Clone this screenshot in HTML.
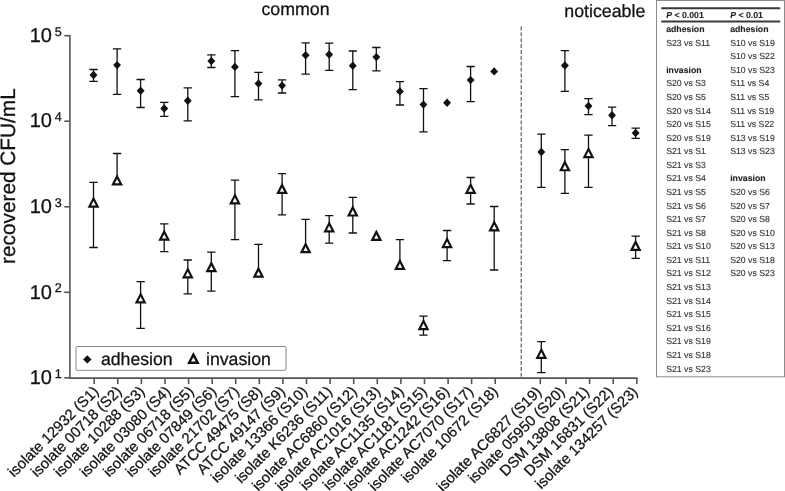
<!DOCTYPE html><html><head><meta charset="utf-8"><title>figure</title><style>html,body{margin:0;padding:0;background:#fff}svg{display:block}.fig text{font-family:"Liberation Sans",sans-serif;text-rendering:geometricPrecision;stroke:#111;stroke-width:.26px;paint-order:stroke}.fig .tb text{stroke-width:.12px;stroke:#333}</style></head><body><svg width="785" height="491" viewBox="0 0 785 491" class="fig"><rect width="785" height="491" fill="#fff"/><g stroke="#555" stroke-width="1.6" fill="none"><path d="M69.9 35.1V378.90000000000003M69.9 378.1H637.57"/><path d="M64.30000000000001 35.7H69.9"/><path d="M64.30000000000001 121.2H69.9"/><path d="M64.30000000000001 206.8H69.9"/><path d="M64.30000000000001 292.3H69.9"/><path d="M64.30000000000001 377.8H69.9"/><path d="M94.2 378.1V384.1"/><path d="M117.8 378.1V384.1"/><path d="M141.4 378.1V384.1"/><path d="M165.0 378.1V384.1"/><path d="M188.6 378.1V384.1"/><path d="M212.2 378.1V384.1"/><path d="M235.7 378.1V384.1"/><path d="M259.3 378.1V384.1"/><path d="M282.9 378.1V384.1"/><path d="M306.5 378.1V384.1"/><path d="M330.1 378.1V384.1"/><path d="M353.7 378.1V384.1"/><path d="M377.3 378.1V384.1"/><path d="M400.9 378.1V384.1"/><path d="M424.5 378.1V384.1"/><path d="M448.1 378.1V384.1"/><path d="M471.6 378.1V384.1"/><path d="M495.2 378.1V384.1"/><path d="M540.3 378.1V384.1"/><path d="M566.0 378.1V384.1"/><path d="M589.6 378.1V384.1"/><path d="M613.2 378.1V384.1"/><path d="M636.8 378.1V384.1"/></g><path d="M521.2 26.5V377.8" stroke="#4a4a4a" stroke-width="1.05" stroke-dasharray="4 1.87" fill="none"/><text x="52.0" y="41.9" font-size="20" text-anchor="end" fill="#111">10</text><text x="54.8" y="35.7" font-size="12.6" fill="#111">5</text><text x="52.0" y="127.4" font-size="20" text-anchor="end" fill="#111">10</text><text x="54.8" y="121.2" font-size="12.6" fill="#111">4</text><text x="52.0" y="212.9" font-size="20" text-anchor="end" fill="#111">10</text><text x="54.8" y="206.8" font-size="12.6" fill="#111">3</text><text x="52.0" y="298.5" font-size="20" text-anchor="end" fill="#111">10</text><text x="54.8" y="292.3" font-size="12.6" fill="#111">2</text><text x="52.0" y="384.0" font-size="20" text-anchor="end" fill="#111">10</text><text x="54.8" y="377.8" font-size="12.6" fill="#111">1</text><text transform="translate(15.0 176.1) rotate(-90)" font-size="20.8" text-anchor="middle" fill="#111">recovered CFU/mL</text><text x="295.5" y="15.4" font-size="17.8" text-anchor="middle" fill="#111">common</text><text x="604.8" y="16.6" font-size="17.8" text-anchor="middle" fill="#111">noticeable</text><g stroke="#111" stroke-width="1.3" fill="none"><path d="M93.5 69.5V81.4M89.3 69.5H97.7M89.3 81.4H97.7"/><path d="M93.5 182.4V198.5M89.3 182.4H97.7M93.5 206.9V247.5M89.3 247.5H97.7"/><path d="M117.1 48.8V94.4M112.9 48.8H121.2M112.9 94.4H121.2"/><path d="M117.1 153.5V176.3M112.9 153.5H121.2"/><path d="M140.6 79.5V107.5M136.5 79.5H144.8M136.5 107.5H144.8"/><path d="M140.6 281.6V294.3M136.5 281.6H144.8M140.6 302.7V328.3M136.5 328.3H144.8"/><path d="M164.2 102.4V116.4M160.1 102.4H168.4M160.1 116.4H168.4"/><path d="M164.2 223.9V231.6M160.1 223.9H168.4M164.2 240.0V251.6M160.1 251.6H168.4"/><path d="M187.8 87.9V120.9M183.6 87.9H191.9M183.6 120.9H191.9"/><path d="M187.8 260.0V269.3M183.6 260.0H191.9M187.8 277.7V293.8M183.6 293.8H191.9"/><path d="M211.3 54.9V67.5M207.2 54.9H215.5M207.2 67.5H215.5"/><path d="M211.3 252.2V263.2M207.2 252.2H215.5M211.3 271.4V291.1M207.2 291.1H215.5"/><path d="M234.9 50.6V96.7M230.8 50.6H239.1M230.8 96.7H239.1"/><path d="M234.9 180.2V195.5M230.8 180.2H239.1M234.9 203.5V239.7M230.8 239.7H239.1"/><path d="M258.5 72.4V99.9M254.3 72.4H262.6M254.3 99.9H262.6"/><path d="M258.5 244.3V268.7M254.3 244.3H262.6"/><path d="M282.1 79.9V93.0M277.9 79.9H286.2M277.9 93.0H286.2"/><path d="M282.1 173.6V185.0M277.9 173.6H286.2M282.1 193.2V214.8M277.9 214.8H286.2"/><path d="M305.6 42.8V74.2M301.5 42.8H309.8M301.5 74.2H309.8"/><path d="M305.6 219.3V244.3M301.5 219.3H309.8"/><path d="M329.2 43.2V70.4M325.1 43.2H333.3M325.1 70.4H333.3"/><path d="M329.2 215.6V223.4M325.1 215.6H333.3M329.2 231.5V243.2M325.1 243.2H333.3"/><path d="M352.8 51.0V89.7M348.6 51.0H356.9M348.6 89.7H356.9"/><path d="M352.8 197.3V207.7M348.6 197.3H356.9M352.8 215.6V233.0M348.6 233.0H356.9"/><path d="M376.3 47.5V70.8M372.2 47.5H380.5M372.2 70.8H380.5"/><path d="M399.9 81.6V105.0M395.8 81.6H404.1M395.8 105.0H404.1"/><path d="M399.9 239.7V261.1M395.8 239.7H404.1"/><path d="M423.5 88.7V131.8M419.3 88.7H427.6M419.3 131.8H427.6"/><path d="M423.5 316.2V321.1M419.3 316.2H427.6M423.5 329.3V335.2M419.3 335.2H427.6"/><path d="M447.1 230.5V238.9M442.9 230.5H451.2M447.1 247.5V260.7M442.9 260.7H451.2"/><path d="M470.6 66.5V101.7M466.5 66.5H474.8M466.5 101.7H474.8"/><path d="M470.6 177.5V184.8M466.5 177.5H474.8M470.6 193.2V204.0M466.5 204.0H474.8"/><path d="M494.2 206.5V222.4M490.0 206.5H498.3M494.2 230.5V270.0M490.0 270.0H498.3"/><path d="M541.3 134.2V187.4M537.2 134.2H545.5M537.2 187.4H545.5"/><path d="M541.3 341.6V349.7M537.2 341.6H545.5M541.3 358.3V372.6M537.2 372.6H545.5"/><path d="M564.9 50.6V91.3M560.8 50.6H569.0M560.8 91.3H569.0"/><path d="M564.9 149.7V162.3M560.8 149.7H569.0M564.9 170.5V193.4M560.8 193.4H569.0"/><path d="M588.5 98.7V114.6M584.3 98.7H592.6M584.3 114.6H592.6"/><path d="M588.5 135.2V148.7M584.3 135.2H592.6M588.5 157.7V187.3M584.3 187.3H592.6"/><path d="M612.0 107.2V125.7M607.9 107.2H616.2M607.9 125.7H616.2"/><path d="M635.6 128.1V138.3M631.5 128.1H639.8M631.5 138.3H639.8"/><path d="M635.6 236.2V241.7M631.5 236.2H639.8M635.6 250.5V258.3M631.5 258.3H639.8"/></g><g fill="#111"><path d="M93.5 70.8L97.5 75.0L93.5 79.2L89.5 75.0Z"/><path d="M117.1 60.9L121.0 65.1L117.1 69.3L113.1 65.1Z"/><path d="M140.6 86.5L144.6 90.7L140.6 94.9L136.7 90.7Z"/><path d="M164.2 104.3L168.2 108.5L164.2 112.7L160.3 108.5Z"/><path d="M187.8 96.5L191.7 100.7L187.8 104.9L183.8 100.7Z"/><path d="M211.3 56.8L215.3 61.0L211.3 65.2L207.4 61.0Z"/><path d="M234.9 62.7L238.9 66.9L234.9 71.1L231.0 66.9Z"/><path d="M258.5 79.4L262.4 83.6L258.5 87.8L254.5 83.6Z"/><path d="M282.1 81.4L286.0 85.6L282.1 89.8L278.1 85.6Z"/><path d="M305.6 51.1L309.6 55.3L305.6 59.5L301.7 55.3Z"/><path d="M329.2 50.3L333.1 54.5L329.2 58.7L325.2 54.5Z"/><path d="M352.8 61.5L356.7 65.7L352.8 69.9L348.8 65.7Z"/><path d="M376.3 52.9L380.3 57.1L376.3 61.3L372.4 57.1Z"/><path d="M399.9 87.2L403.9 91.4L399.9 95.6L396.0 91.4Z"/><path d="M423.5 100.4L427.4 104.6L423.5 108.8L419.5 104.6Z"/><path d="M447.1 98.6L451.0 102.8L447.1 107.0L443.1 102.8Z"/><path d="M470.6 75.9L474.6 80.1L470.6 84.3L466.7 80.1Z"/><path d="M494.2 67.2L498.1 71.4L494.2 75.6L490.2 71.4Z"/><path d="M541.3 147.8L545.3 152.0L541.3 156.2L537.4 152.0Z"/><path d="M564.9 61.3L568.9 65.5L564.9 69.7L560.9 65.5Z"/><path d="M588.5 101.8L592.4 106.0L588.5 110.2L584.5 106.0Z"/><path d="M612.0 111.1L616.0 115.3L612.0 119.5L608.1 115.3Z"/><path d="M635.6 128.8L639.6 133.0L635.6 137.2L631.7 133.0Z"/></g><g fill="#fff" stroke="#111" stroke-width="2.2" stroke-linejoin="miter"><path d="M93.50 198.55L97.60 206.55H89.40Z"/><path d="M117.07 176.40L121.17 184.40H112.97Z"/><path d="M140.64 294.35L144.74 302.35H136.54Z"/><path d="M164.21 231.65L168.31 239.65H160.11Z"/><path d="M187.78 269.35L191.88 277.35H183.68Z"/><path d="M211.35 263.15L215.45 271.15H207.25Z"/><path d="M234.92 195.35L239.02 203.35H230.82Z"/><path d="M258.49 268.65L262.59 276.65H254.39Z"/><path d="M282.06 184.95L286.16 192.95H277.96Z"/><path d="M305.63 244.20L309.73 252.20H301.53Z"/><path d="M329.20 223.30L333.30 231.30H325.10Z"/><path d="M352.77 207.50L356.87 215.50H348.67Z"/><path d="M376.34 231.95L380.44 239.95H372.24Z"/><path d="M399.91 260.95L404.01 268.95H395.81Z"/><path d="M423.48 321.05L427.58 329.05H419.38Z"/><path d="M447.05 239.05L451.15 247.05H442.95Z"/><path d="M470.62 184.85L474.72 192.85H466.52Z"/><path d="M494.19 222.30L498.29 230.30H490.09Z"/><path d="M541.33 349.85L545.43 357.85H537.23Z"/><path d="M564.90 162.25L569.00 170.25H560.80Z"/><path d="M588.47 149.05L592.57 157.05H584.37Z"/><path d="M635.61 241.95L639.71 249.95H631.51Z"/><path d="M193.4 354.6L197.7 362.7H189.1Z" stroke-width="2.4"/></g><rect x="76.0" y="346.5" width="210.0" height="23.8" rx="1" fill="none" stroke="#888" stroke-width="1"/><path d="M87.3 355.2L91.5 359.4L87.3 363.6L83.1 359.4Z" fill="#111"/><text x="100.9" y="364.5" font-size="17.7" fill="#111">adhesion</text><text x="206.0" y="364.5" font-size="17.7" fill="#111">invasion</text><text transform="translate(99.5 392.3) rotate(-45)" font-size="14.9" text-anchor="end" fill="#111">isolate 12932 (S1)</text><text transform="translate(122.5 392.3) rotate(-45)" font-size="14.9" text-anchor="end" fill="#111">isolate 00718 (S2)</text><text transform="translate(145.5 392.3) rotate(-45)" font-size="14.9" text-anchor="end" fill="#111">isolate 10288 (S3)</text><text transform="translate(171.4 392.3) rotate(-45)" font-size="14.9" text-anchor="end" fill="#111">isolate 03080 (S4)</text><text transform="translate(194.7 392.3) rotate(-45)" font-size="14.9" text-anchor="end" fill="#111">isolate 06718 (S5)</text><text transform="translate(217.2 392.3) rotate(-45)" font-size="14.9" text-anchor="end" fill="#111">isolate 07849 (S6)</text><text transform="translate(239.9 392.3) rotate(-45)" font-size="14.9" text-anchor="end" fill="#111">isolate 21702 (S7)</text><text transform="translate(263.0 392.3) rotate(-45)" font-size="14.9" text-anchor="end" fill="#111">ATCC 49475 (S8)</text><text transform="translate(285.9 392.3) rotate(-45)" font-size="14.9" text-anchor="end" fill="#111">ATCC 49147 (S9)</text><text transform="translate(308.3 392.3) rotate(-45)" font-size="14.9" text-anchor="end" fill="#111">isolate 13366 (S10)</text><text transform="translate(332.9 392.3) rotate(-45)" font-size="14.9" text-anchor="end" fill="#111">isolate K6236 (S11)</text><text transform="translate(357.7 392.3) rotate(-45)" font-size="14.9" text-anchor="end" fill="#111">isolate AC6860 (S12)</text><text transform="translate(381.2 392.3) rotate(-45)" font-size="14.9" text-anchor="end" fill="#111">isolate AC1016 (S13)</text><text transform="translate(404.7 392.3) rotate(-45)" font-size="14.9" text-anchor="end" fill="#111">isolate AC1135 (S14)</text><text transform="translate(427.8 392.3) rotate(-45)" font-size="14.9" text-anchor="end" fill="#111">isolate AC1181 (S15)</text><text transform="translate(450.3 392.3) rotate(-45)" font-size="14.9" text-anchor="end" fill="#111">isolate AC1242 (S16)</text><text transform="translate(474.3 392.3) rotate(-45)" font-size="14.9" text-anchor="end" fill="#111">isolate AC7070 (S17)</text><text transform="translate(498.8 392.3) rotate(-45)" font-size="14.9" text-anchor="end" fill="#111">isolate 10672 (S18)</text><text transform="translate(542.3 392.7) rotate(-45)" font-size="14.9" text-anchor="end" fill="#111">isolate AC6827 (S19)</text><text transform="translate(565.6 392.7) rotate(-45)" font-size="14.9" text-anchor="end" fill="#111">isolate 05950 (S20)</text><text transform="translate(590.1 392.7) rotate(-45)" font-size="14.9" text-anchor="end" fill="#111">DSM 13808 (S21)</text><text transform="translate(614.2 392.7) rotate(-45)" font-size="14.9" text-anchor="end" fill="#111">DSM 16831 (S22)</text><text transform="translate(638.5 392.7) rotate(-45)" font-size="14.9" text-anchor="end" fill="#111">isolate 134257 (S23)</text><g class="tb"><rect x="656.5" y="0.5" width="128" height="376.3" fill="#fff" stroke="#8a8a8a" stroke-width="1"/><path d="M661.2 8.2H780.2M661.2 21.5H780.2" stroke="#3a3a3a" stroke-width="2"/><text x="666.2" y="17.5" font-size="8.72" font-weight="bold" fill="#222"><tspan font-style="italic">P</tspan> &lt; 0.001</text><text x="730.2" y="17.5" font-size="8.72" font-weight="bold" fill="#222"><tspan font-style="italic">P</tspan> &lt; 0.01</text><text x="666.2" y="32.0" font-size="8.72" font-weight="bold" fill="#222">adhesion</text><text x="666.2" y="45.6" font-size="8.72" fill="#333">S23 vs S11</text><text x="666.2" y="72.7" font-size="8.72" font-weight="bold" fill="#222">invasion</text><text x="666.2" y="86.3" font-size="8.72" fill="#333">S20 vs S3</text><text x="666.2" y="99.9" font-size="8.72" fill="#333">S20 vs S5</text><text x="666.2" y="113.5" font-size="8.72" fill="#333">S20 vs S14</text><text x="666.2" y="127.1" font-size="8.72" fill="#333">S20 vs S15</text><text x="666.2" y="140.6" font-size="8.72" fill="#333">S20 vs S19</text><text x="666.2" y="154.2" font-size="8.72" fill="#333">S21 vs S1</text><text x="666.2" y="167.8" font-size="8.72" fill="#333">S21 vs S3</text><text x="666.2" y="181.4" font-size="8.72" fill="#333">S21 vs S4</text><text x="666.2" y="195.0" font-size="8.72" fill="#333">S21 vs S5</text><text x="666.2" y="208.5" font-size="8.72" fill="#333">S21 vs S6</text><text x="666.2" y="222.1" font-size="8.72" fill="#333">S21 vs S7</text><text x="666.2" y="235.7" font-size="8.72" fill="#333">S21 vs S8</text><text x="666.2" y="249.3" font-size="8.72" fill="#333">S21 vs S10</text><text x="666.2" y="262.9" font-size="8.72" fill="#333">S21 vs S11</text><text x="666.2" y="276.4" font-size="8.72" fill="#333">S21 vs S12</text><text x="666.2" y="290.0" font-size="8.72" fill="#333">S21 vs S13</text><text x="666.2" y="303.6" font-size="8.72" fill="#333">S21 vs S14</text><text x="666.2" y="317.2" font-size="8.72" fill="#333">S21 vs S15</text><text x="666.2" y="330.8" font-size="8.72" fill="#333">S21 vs S16</text><text x="666.2" y="344.3" font-size="8.72" fill="#333">S21 vs S19</text><text x="666.2" y="357.9" font-size="8.72" fill="#333">S21 vs S18</text><text x="666.2" y="371.5" font-size="8.72" fill="#333">S21 vs S23</text><text x="730.2" y="32.0" font-size="8.72" font-weight="bold" fill="#222">adhesion</text><text x="730.2" y="45.6" font-size="8.72" fill="#333">S10 vs S19</text><text x="730.2" y="59.2" font-size="8.72" fill="#333">S10 vs S22</text><text x="730.2" y="72.7" font-size="8.72" fill="#333">S10 vs S23</text><text x="730.2" y="86.3" font-size="8.72" fill="#333">S11 vs S4</text><text x="730.2" y="99.9" font-size="8.72" fill="#333">S11 vs S5</text><text x="730.2" y="113.5" font-size="8.72" fill="#333">S11 vs S19</text><text x="730.2" y="127.1" font-size="8.72" fill="#333">S11 vs S22</text><text x="730.2" y="140.6" font-size="8.72" fill="#333">S13 vs S19</text><text x="730.2" y="154.2" font-size="8.72" fill="#333">S13 vs S23</text><text x="730.2" y="181.4" font-size="8.72" font-weight="bold" fill="#222">invasion</text><text x="730.2" y="195.0" font-size="8.72" fill="#333">S20 vs S6</text><text x="730.2" y="208.5" font-size="8.72" fill="#333">S20 vs S7</text><text x="730.2" y="222.1" font-size="8.72" fill="#333">S20 vs S8</text><text x="730.2" y="235.7" font-size="8.72" fill="#333">S20 vs S10</text><text x="730.2" y="249.3" font-size="8.72" fill="#333">S20 vs S13</text><text x="730.2" y="262.9" font-size="8.72" fill="#333">S20 vs S18</text><text x="730.2" y="276.4" font-size="8.72" fill="#333">S20 vs S23</text></g></svg></body></html>
